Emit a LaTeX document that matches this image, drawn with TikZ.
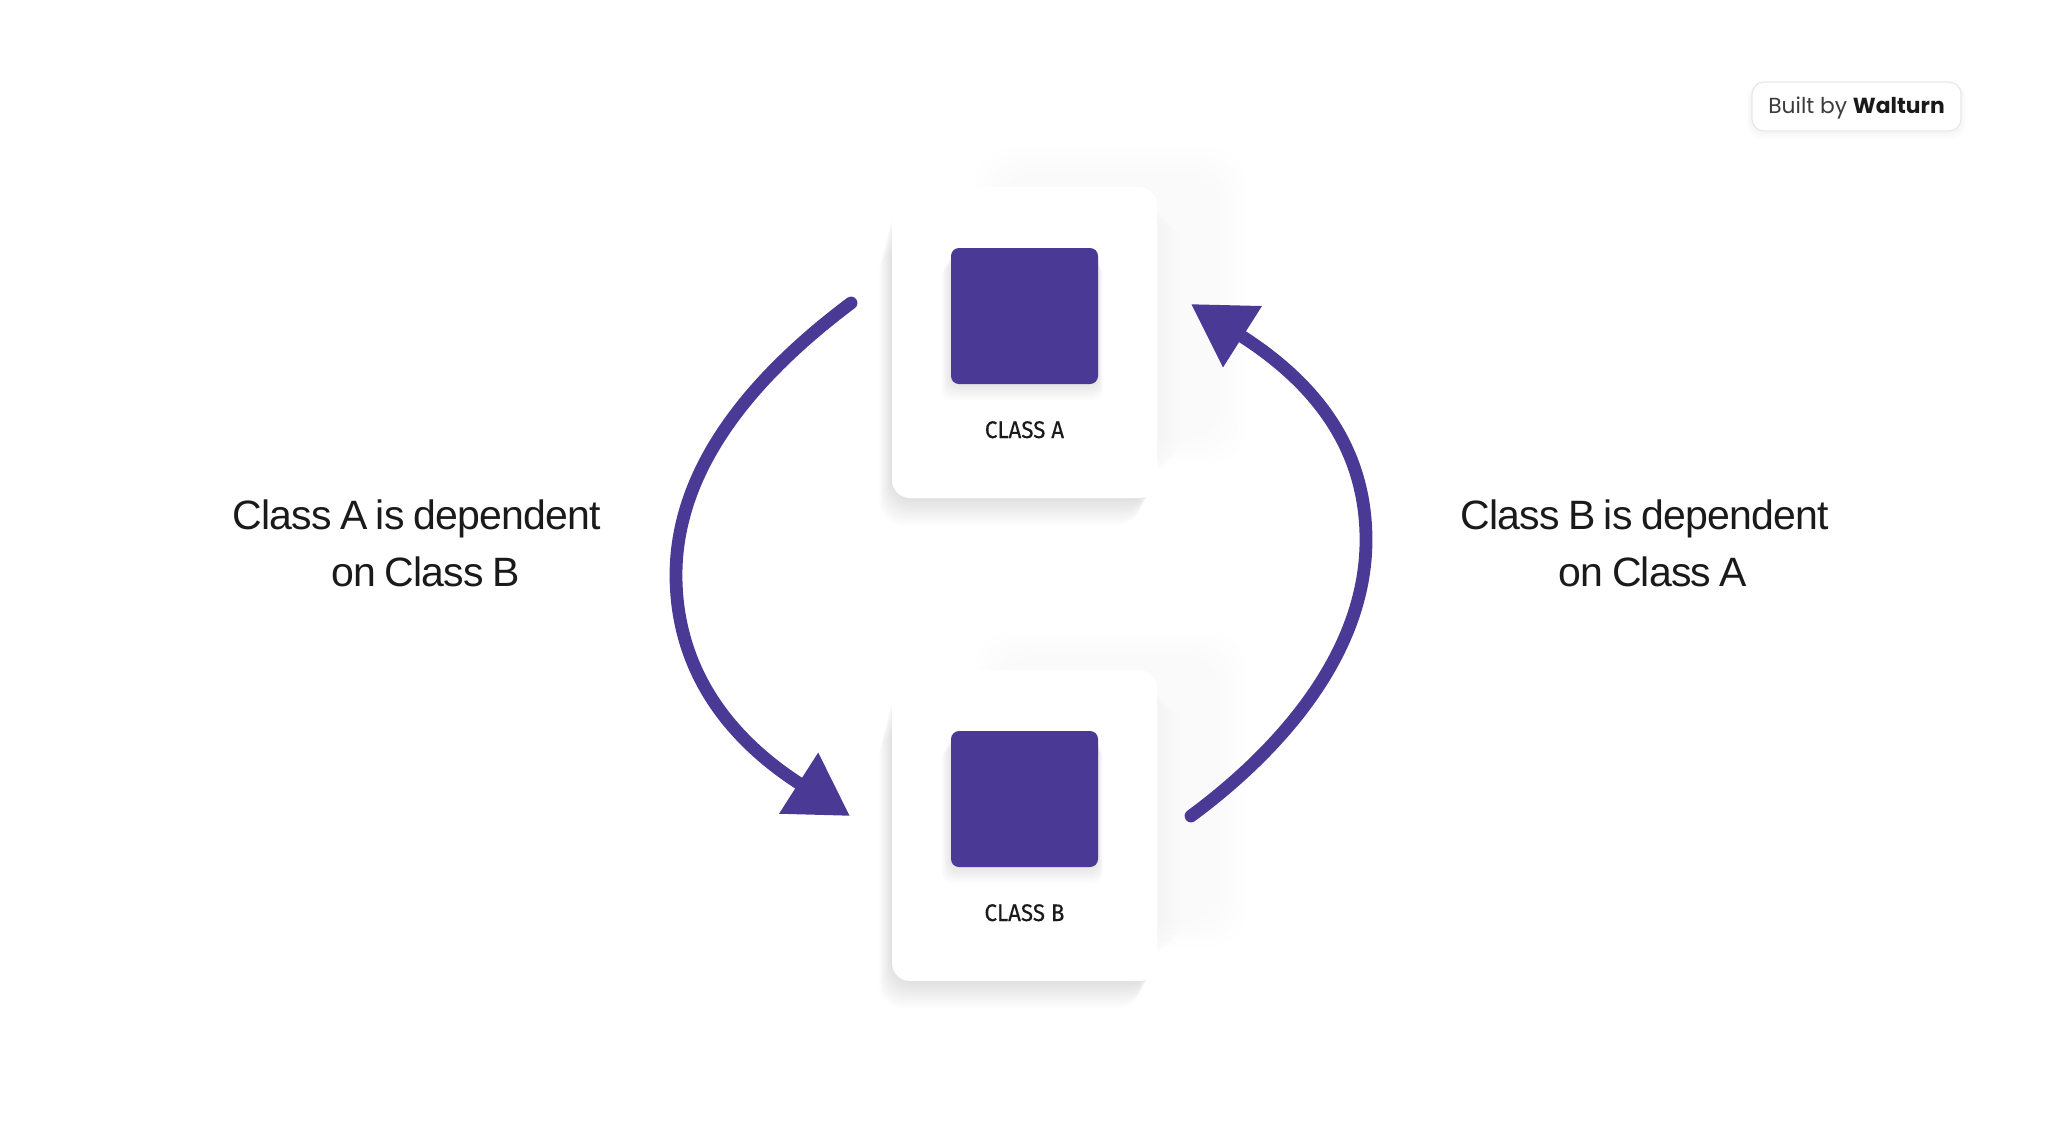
\documentclass[tikz,border=0pt]{standalone}
\usepackage{fontspec}
\usepackage{tikz}
\usetikzlibrary{arrows.meta}
\newfontfamily\labelfont[LetterSpace=-2.0,WordSpace=0.8]{Liberation Sans}
\newfontfamily\captionfont[FakeStretch=0.93,FakeBold=0.3]{Fira Sans}
\newfontfamily\badgefont{Poppins}
\definecolor{classpurple}{HTML}{4A3A96}
\definecolor{inktext}{HTML}{1A1A1A}

\begin{document}
\begin{tikzpicture}[
  x=0.5pt,y=-0.5pt,
  softshadow/.style={fill=black,draw=none},
  cardbox/.style={fill=white,draw=none,rounded corners=9pt,inner sep=0pt,minimum width=132.5pt,minimum height=155.5pt},
  squarebox/.style={fill=classpurple,draw=none,rounded corners=4pt,inner sep=0pt,minimum width=73.5pt,minimum height=68pt},
  captiontext/.style={anchor=base,inner sep=0pt,text=inktext,font=\captionfont\fontsize{12}{14}\selectfont},
  sidetext/.style={anchor=base,inner sep=0pt,text=inktext,font=\labelfont\fontsize{20.5}{24}\selectfont},
  badgebox/.style={fill=white,draw=black!9,line width=0.6pt,rounded corners=6pt,inner sep=0pt,minimum width=104.5pt,minimum height=24.5pt},
  dependarrow/.style={draw=classpurple,line width=6.4pt,line cap=round,-{Triangle[length=30.5pt,width=34.5pt]}},
]
\useasboundingbox (0,0) rectangle (2048,1141);

\foreach \cname/\dy/\ctext in {A/0/CLASS A,B/483/CLASS B}
{
\begin{scope}[shift={(0,\dy)}]
  % wide faint glow to the upper right
  \foreach \k in {0,...,4} {
    \fill[softshadow,opacity=0.004,rounded corners=18pt]
      (975+6*\k,148+6*\k) rectangle (1245-6*\k,464-6*\k);
  }
  % close shadow, left and below
  \foreach \k in {1,...,10} {
    \fill[softshadow,opacity=0.010,rounded corners=12pt]
      (892-1.3*\k,198+5*\k) rectangle (1156-1.5*\k,498+2.7*\k);
  }
  \foreach \k in {1,...,6} {
    \fill[softshadow,opacity=0.004,rounded corners=10pt]
      (1000,200+4*\k) rectangle (1157+4*\k,484-4*\k);
  }
  \node[cardbox] (card\cname) at (1024.5,342.5) {};
  % shadow of the square
  \foreach \k in {1,...,8} {
    \fill[softshadow,opacity=0.010,rounded corners=5pt]
      (951-1.2*\k,250+2*\k) rectangle (1098+0.6*\k,384+2*\k);
  }
  \node[squarebox] (square\cname) at (1024.5,316) {};
  \node[captiontext] (caption\cname) at (1024.5,438) {\ctext};
\end{scope}
}

\node[sidetext] (depAone) at (416.5,529) {Class A is dependent};
\node[sidetext] (depAtwo) at (425.5,586) {on Class B};
\node[sidetext] (depBone) at (1644.5,529) {Class B is dependent};
\node[sidetext] (depBtwo) at (1653,586) {on Class A};

\coordinate (arrowAstart) at (851,303);
\coordinate (arrowAbend) at (676,575);
\coordinate (arrowAend) at (850,816);
\draw[dependarrow] (arrowAstart) .. controls (764.6,367.8) and (676,460) .. (arrowAbend)
  .. controls (676,655) and (714,729) .. (arrowAend);

\coordinate (arrowBstart) at (1191,816);
\coordinate (arrowBbend) at (1366,540);
\coordinate (arrowBend) at (1191,304);
\draw[dependarrow] (arrowBstart) .. controls (1277.4,752.2) and (1366,655) .. (arrowBbend)
  .. controls (1366,460) and (1328,391) .. (arrowBend);

% badge, top right
\foreach \k in {1,...,5} {
  \fill[softshadow,opacity=0.008,rounded corners=7pt]
    (1752-\k,84) rectangle (1961+\k,131+1.6*\k);
}
\node[badgebox] (badge) at (1856.5,106.5) {};
\node[anchor=base,inner sep=0pt,text=inktext,font=\badgefont\fontsize{10.9}{13}\selectfont] (badgetext) at (1856.5,113) {{\color{inktext!85}Built by} \textbf{Walturn}};
\end{tikzpicture}
\end{document}
